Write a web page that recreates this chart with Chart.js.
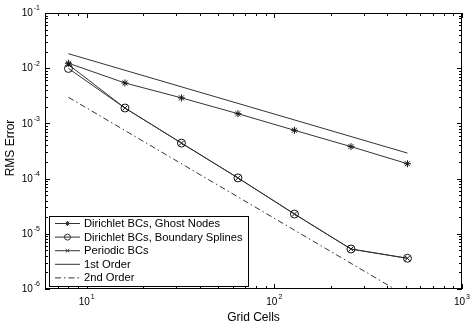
<!DOCTYPE html>
<html>
<head>
<meta charset="UTF-8">
<title>RMS Error vs Grid Cells</title>
<script src="https://cdn.jsdelivr.net/npm/chart.js"></script>
<style>
body{
  margin:0;
  background:white;
}
.wrap{
  width:474px;
  height:326px;
  position:relative;
}
</style>
</head>
<body>

<div class="wrap">
<canvas id="errChart"></canvas>
</div>

<script>

// data
const gridCells = [8, 16, 32, 64, 128, 256, 512];
const ghostNodes = [0.0123, 0.0054, 0.0029, 0.0015, 0.00075, 0.00038, 0.000186];
const boundarySplines = [0.0099, 0.0019, 0.00044, 0.000103, 0.0000228, 0.0000053, 0.0000036];
const periodicBCs = [0.0116, 0.0019, 0.00044, 0.000103, 0.0000228, 0.0000053, 0.0000036];

// reference slopes (end points only)
const orderX = [8, 512];
const firstOrder = [0.0183, 0.00029];
const secondOrder = [0.00297, 0.00000073];

// axis labels
const xTickVals = [10, 100, 1000];
const xTickExps = ['1', '2', '3'];
const yTickVals = [1e-6, 1e-5, 1e-4, 1e-3, 1e-2, 1e-1];
const yTickExps = ['-6', '-5', '-4', '-3', '-2', '-1'];

const FONT = '"Liberation Sans", Arial, Helvetica, sans-serif';
const LINE = '#333';

function pts(xs, ys){
  return xs.map((x,i)=>({x:x, y:ys[i]}));
}

// 1..9 x 10^n inside [min,max]
function logTicks(min, max){
  let out = [];
  for(let e=Math.floor(Math.log10(min)); e<=Math.ceil(Math.log10(max)); e++){
    for(let m=1; m<=9; m++){
      let v = Number((m*Math.pow(10,e)).toPrecision(6));
      if(v>=min*0.9999 && v<=max*1.0001) out.push({value:v});
    }
  }
  return out;
}

function drawMarker(ctx, style, x, y, r){
  ctx.beginPath();
  if(style=='circle'){
    ctx.arc(x, y, r, 0, Math.PI*2);
  }else{
    let angles = style=='star' ? [0,45,90,135] : [45,135];
    angles.forEach(a=>{
      let rad = a*Math.PI/180;
      ctx.moveTo(x-Math.cos(rad)*r, y-Math.sin(rad)*r);
      ctx.lineTo(x+Math.cos(rad)*r, y+Math.sin(rad)*r);
    });
  }
  ctx.stroke();
}

const legendItems = [
  {text:'Dirichlet BCs, Ghost Nodes', marker:'star', dash:[]},
  {text:'Dirichlet BCs, Boundary Splines', marker:'circle', dash:[]},
  {text:'Periodic BCs', marker:'crossRot', dash:[]},
  {text:'1st Order', marker:null, dash:[]},
  {text:'2nd Order', marker:null, dash:[6,3,1.5,3]}
];

const frame = {
  id:'frame',
  afterDatasetsDraw(chart){
    const ctx = chart.ctx;
    const a = chart.chartArea;
    const xs = chart.scales.x, ys = chart.scales.y;
    ctx.save();
    ctx.strokeStyle = '#000';
    ctx.lineWidth = 1;
    ctx.setLineDash([]);
    ctx.strokeRect(a.left+0.5, a.top+0.5, a.right-a.left-1, a.bottom-a.top-1);

    // inward ticks on all four sides
    ctx.beginPath();
    xs.ticks.forEach(t=>{
      let major = Math.abs(Math.log10(t.value)-Math.round(Math.log10(t.value)))<1e-6;
      let len = major ? 5 : 3;
      let px = Math.round(xs.getPixelForValue(t.value))+0.5;
      ctx.moveTo(px, a.bottom); ctx.lineTo(px, a.bottom-len);
      ctx.moveTo(px, a.top); ctx.lineTo(px, a.top+len);
    });
    ys.ticks.forEach(t=>{
      let major = Math.abs(Math.log10(t.value)-Math.round(Math.log10(t.value)))<1e-6;
      let len = major ? 5 : 3;
      let py = Math.round(ys.getPixelForValue(t.value))+0.5;
      ctx.moveTo(a.left, py); ctx.lineTo(a.left+len, py);
      ctx.moveTo(a.right, py); ctx.lineTo(a.right-len, py);
    });
    ctx.stroke();

    // tick labels 10^n
    ctx.fillStyle = '#000';
    ctx.textBaseline = 'middle';
    ctx.textAlign = 'left';
    xTickVals.forEach((v,i)=>{
      let px = xs.getPixelForValue(v);
      ctx.font = '10px '+FONT;
      let wb = ctx.measureText('10').width;
      ctx.font = '7px '+FONT;
      let we = ctx.measureText(xTickExps[i]).width;
      let x0 = px-(wb+we+1)/2;
      ctx.font = '10px '+FONT;
      ctx.fillText('10', x0, 302.5);
      ctx.font = '7px '+FONT;
      ctx.fillText(xTickExps[i], x0+wb+1, 297.5);
    });
    yTickVals.forEach((v,i)=>{
      let py = ys.getPixelForValue(v);
      ctx.font = '7px '+FONT;
      let we = ctx.measureText(yTickExps[i]).width;
      ctx.font = '10px '+FONT;
      let wb = ctx.measureText('10').width;
      let x0 = 40-we-1-wb;
      ctx.fillText('10', x0, py+0.5);
      ctx.font = '7px '+FONT;
      ctx.fillText(yTickExps[i], x0+wb+1, py-4.5);
    });

    // axis titles
    ctx.font = '12px '+FONT;
    ctx.textAlign = 'center';
    ctx.fillText('Grid Cells', (a.left+a.right)/2, 317.5);
    ctx.save();
    ctx.translate(11, 148);
    ctx.rotate(-Math.PI/2);
    ctx.fillText('RMS Error', 0, 0);
    ctx.restore();

    // legend box
    ctx.fillStyle = '#fff';
    ctx.fillRect(49.5, 216.5, 199, 70);
    ctx.strokeStyle = '#000';
    ctx.strokeRect(49.5, 216.5, 199, 70);
    ctx.font = '11.2px '+FONT;
    ctx.textAlign = 'left';
    legendItems.forEach((it,i)=>{
      let y = 223.5 + i*13.6;
      ctx.strokeStyle = LINE;
      ctx.lineWidth = 1;
      ctx.setLineDash(it.dash);
      ctx.beginPath();
      ctx.moveTo(55, y); ctx.lineTo(80, y);
      ctx.stroke();
      ctx.setLineDash([]);
      if(it.marker) drawMarker(ctx, it.marker, 67.5, y, it.marker=='circle' ? 3 : 2.5);
      ctx.fillStyle = '#000';
      ctx.fillText(it.text, 84, y+0.5);
    });
    ctx.restore();
  }
};

new Chart(document.getElementById('errChart'),{
  type:'line',
  data:{
    datasets:[
      {label:'1st Order', data:pts(orderX, firstOrder), borderColor:LINE, borderWidth:1, pointRadius:0},
      {label:'2nd Order', data:pts(orderX, secondOrder), borderColor:LINE, borderWidth:1, pointRadius:0, borderDash:[6,3,1.5,3]},
      {label:'Dirichlet BCs, Ghost Nodes', data:pts(gridCells, ghostNodes), borderColor:LINE, borderWidth:1,
        pointStyle:'star', pointRadius:3.5, pointBorderWidth:1, pointBorderColor:'#111', pointBackgroundColor:'transparent'},
      {label:'Dirichlet BCs, Boundary Splines', data:pts(gridCells, boundarySplines), borderColor:LINE, borderWidth:1,
        pointStyle:'circle', pointRadius:4, pointBorderWidth:1, pointBorderColor:'#111', pointBackgroundColor:'transparent'},
      {label:'Periodic BCs', data:pts(gridCells, periodicBCs), borderColor:LINE, borderWidth:1,
        pointStyle:'crossRot', pointRadius:3.5, pointBorderWidth:1, pointBorderColor:'#111', pointBackgroundColor:'transparent'}
    ]
  },
  options:{
    responsive:true,
    maintainAspectRatio:false,
    animation:false,
    layout:{padding:{top:13, right:12, left:0, bottom:0}},
    plugins:{legend:{display:false}, tooltip:{enabled:false}},
    scales:{
      x:{
        type:'logarithmic', min:6, max:1000,
        afterBuildTicks:s=>{ s.ticks = logTicks(6, 1000); },
        afterFit:s=>{ s.height = 37; },
        grid:{display:false}, border:{display:false},
        ticks:{display:false}
      },
      y:{
        type:'logarithmic', min:1e-6, max:1e-1,
        afterBuildTicks:s=>{ s.ticks = logTicks(1e-6, 1e-1); },
        afterFit:s=>{ s.width = 45; },
        grid:{display:false}, border:{display:false},
        ticks:{display:false}
      }
    }
  },
  plugins:[frame]
});

</script>

</body>
</html>
